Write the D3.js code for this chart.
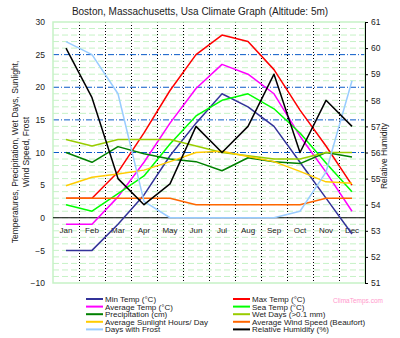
<!DOCTYPE html>
<html>
<head>
<meta charset="utf-8">
<script src="https://cdn.jsdelivr.net/npm/d3@7"></script>
<style>
  body { margin: 0; background: #fff; }
  svg { display: block; font-family: "Liberation Sans", Arial, sans-serif; }
</style>
</head>
<body>
<svg id="chart" width="400" height="338"></svg>
<script>
// Boston climate graph — line chart, two y axes (left: mixed units, right: humidity)
var MONTHS = ['Jan', 'Feb', 'Mar', 'Apr', 'May', 'Jun', 'Jul', 'Aug', 'Sep', 'Oct', 'Nov', 'Dec'];
var MIN_TEMP = [-5, -5, -1, 3.5, 9.5, 14.5, 19, 17, 14, 8.5, 3, -2.5];
var MAX_TEMP = [3, 3, 7, 13, 19.5, 25, 28, 27, 22.7, 16.5, 11, 5];
var AVG_TEMP = [-1, -1, 3.2, 8.5, 14.5, 19.8, 23.5, 22, 19, 12.5, 7, 1];
var SEA_TEMP = [2, 1, 3.7, 6.4, 11.3, 15.6, 18, 19, 16.7, 13, 8.4, 4];
var PRECIP = [10, 8.5, 10.9, 9.8, 9, 8.6, 7.2, 9.2, 8.6, 8.3, 10, 9.3];
var WET_DAYS = [12, 11, 12, 12, 12, 11, 10, 9.5, 9, 9, 10, 10];
var SUNLIGHT = [4.9, 6.2, 6.7, 7.3, 8.6, 10, 10.2, 9.4, 8.6, 7.1, 5.5, 5.3];
var WIND = [3, 3, 3, 3, 3, 2, 2, 2, 2, 2, 3, 3];
var FROST = [27, 25, 19, 2.5, 0, 0, 0, 0, 0, 1, 7, 21];
var HUMIDITY = [60, 58.1, 55, 54, 54.8, 57, 56, 57, 59, 56, 58, 57];
var LEFT_TICKS = [-10, -5, 0, 5, 10, 15, 20, 25, 30];
var RIGHT_TICKS = [51, 52, 53, 54, 55, 56, 57, 58, 59, 60, 61];

var SERIES = [
  { name: 'Min Temp (°C)', data: MIN_TEMP, color: '#333399', w: 1.5, axis: 'L' },
  { name: 'Max Temp (°C)', data: MAX_TEMP, color: '#ff0000', w: 1.5, axis: 'L' },
  { name: 'Average Temp (°C)', data: AVG_TEMP, color: '#ff00ff', w: 1.5, axis: 'L' },
  { name: 'Sea Temp (°C)', data: SEA_TEMP, color: '#00ff00', w: 1.5, axis: 'L' },
  { name: 'Precipitation (cm)', data: PRECIP, color: '#008000', w: 1.5, axis: 'L' },
  { name: 'Wet Days (>0.1 mm)', data: WET_DAYS, color: '#99cc00', w: 1.5, axis: 'L' },
  { name: 'Average Sunlight Hours/ Day', data: SUNLIGHT, color: '#ffcc00', w: 1.5, axis: 'L' },
  { name: 'Average Wind Speed (Beaufort)', data: WIND, color: '#ff6600', w: 1.5, axis: 'L' },
  { name: 'Days with Frost', data: FROST, color: '#99ccff', w: 1.5, axis: 'L' },
  { name: 'Relative Humidity (%)', data: HUMIDITY, color: '#000000', w: 1.5, axis: 'R' }
];

var svg = d3.select('#chart');
var L = 53, R = 365, T = 22, B = 283;
var x = d3.scaleBand().domain(MONTHS).range([L, R]);
var yL = d3.scaleLinear().domain([-10, 30]).range([B, T]);
var yR = d3.scaleLinear().domain([51, 61]).range([B, T]);
function cx(m) { return x(m) + x.bandwidth() / 2; }

// title
svg.append('text').attr('x', 200).attr('y', 15).attr('text-anchor', 'middle')
  .attr('font-size', 10).attr('fill', '#222').text('Boston, Massachusetts, Usa Climate Graph (Altitude: 5m)');

// minor grid every unit, blue dash-dot majors
var gGrid = svg.append('g');
d3.range(-9, 30).forEach(function (v) {
  var major = v >= 10 && v % 5 === 0;
  gGrid.append('line').attr('x1', L).attr('x2', R).attr('y1', yL(v)).attr('y2', yL(v))
    .attr('stroke', major ? '#0a5ac8' : '#c6f2c6').attr('stroke-width', 1)
    .attr('stroke-dasharray', major ? '6,2,1,2' : '6,3');
});
// month separators
MONTHS.slice(1).forEach(function (m) {
  gGrid.append('line').attr('x1', x(m) + 0.5).attr('x2', x(m) + 0.5).attr('y1', T).attr('y2', B)
    .attr('stroke', '#000').attr('stroke-width', 1).attr('stroke-dasharray', '1,2');
});
// plot frame (light green) + zero line
svg.append('rect').attr('x', L).attr('y', T).attr('width', R - L).attr('height', B - T)
  .attr('fill', 'none').attr('stroke', '#c6f2c6').attr('stroke-width', 1.5);
svg.append('line').attr('x1', L).attr('x2', R).attr('y1', yL(0)).attr('y2', yL(0))
  .attr('stroke', '#000').attr('stroke-width', 1.2);

// left axis (labels only)
var axL = svg.append('g').attr('transform', 'translate(' + L + ',0)')
  .call(d3.axisLeft(yL).tickValues(LEFT_TICKS).tickSize(0).tickPadding(8));
axL.select('.domain').remove();
axL.selectAll('text').attr('font-size', 8.5).attr('fill', '#222').attr('font-family', 'Liberation Sans, Arial, sans-serif');

// right axis
var axR = svg.append('g').attr('transform', 'translate(' + R + ',0)')
  .call(d3.axisRight(yR).tickValues(RIGHT_TICKS).tickSize(3).tickPadding(3));
axR.selectAll('text').attr('font-size', 8.5).attr('fill', '#222').attr('font-family', 'Liberation Sans, Arial, sans-serif');

// month labels under zero line
svg.append('g').selectAll('text').data(MONTHS).enter().append('text')
  .attr('x', cx).attr('y', yL(0) + 15).attr('text-anchor', 'middle')
  .attr('font-size', 8).attr('fill', '#222').text(function (d) { return d; });

// axis titles
svg.append('text').attr('transform', 'translate(18,152) rotate(-90)').attr('text-anchor', 'middle')
  .attr('font-size', 8.5).attr('fill', '#222').text('Temperatures, Precipitation, Wet Days, Sunlight,');
svg.append('text').attr('transform', 'translate(29,152) rotate(-90)').attr('text-anchor', 'middle')
  .attr('font-size', 8.5).attr('fill', '#222').text('Wind Speed, Frost');
svg.append('text').attr('transform', 'translate(387,156) rotate(-90)').attr('text-anchor', 'middle')
  .attr('font-size', 8.5).attr('fill', '#222').text('Relative Humidity');

// series
var gS = svg.append('g');
SERIES.forEach(function (s) {
  var yy = s.axis === 'R' ? yR : yL;
  var line = d3.line().x(function (d, i) { return cx(MONTHS[i]); }).y(function (d) { return yy(d); });
  gS.append('path').attr('d', line(s.data)).attr('fill', 'none')
    .attr('stroke', s.color).attr('stroke-width', s.w).attr('stroke-linejoin', 'round');
});

// legend, two columns
var gLeg = svg.append('g');
SERIES.forEach(function (s, i) {
  var col = i % 2, row = Math.floor(i / 2);
  var lx = col ? 233 : 86, ly = 299 + row * 7.6;
  gLeg.append('line').attr('x1', lx).attr('x2', lx + 17).attr('y1', ly).attr('y2', ly)
    .attr('stroke', s.color).attr('stroke-width', 2);
  gLeg.append('text').attr('x', lx + 19).attr('y', ly + 3).attr('font-size', 8)
    .attr('fill', '#222').text(s.name);
});
svg.append('text').attr('x', 358).attr('y', 303).attr('text-anchor', 'middle')
  .attr('font-size', 6.5).attr('fill', '#ff99cc').text('ClimaTemps.com');
</script>
</body>
</html>
